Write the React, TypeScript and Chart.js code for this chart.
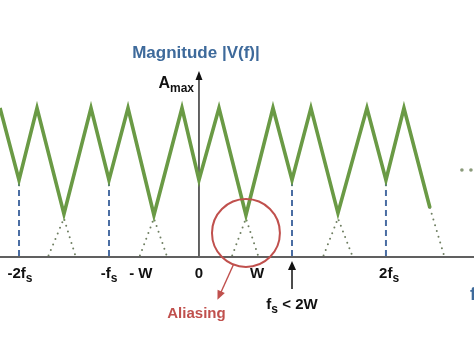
import { useEffect, useRef } from 'react';
import { Chart, registerables } from 'chart.js';

Chart.register(...registerables);

// Spectrum (x in units of fs, y in units of Amax)
const spectrumX = [-2.156, -1.95, -1.755, -1.463, -1.17, -0.975, -0.769, -0.488, -0.184, 0, 0.217, 0.509, 0.802, 1.008, 1.213, 1.506, 1.82, 2.026, 2.221, 2.503];
const spectrumY = [1.0, 0.517, 1.0, 0.289, 1.0, 0.517, 1.0, 0.282, 1.0, 0.517, 1.0, 0.282, 1.0, 0.517, 1.0, 0.295, 1.0, 0.517, 1.0, 0.329];

// Hidden (overlapping) tails drawn dotted
const tailX = [
  [-1.63, -1.463, -1.34],
  [-0.64, -0.488, -0.35],
  [0.36, 0.509, 0.64],
  [1.35, 1.506, 1.66],
  [2.503, 2.654],
];
const tailY = [
  [0.01, 0.26, 0.01],
  [0.01, 0.26, 0.01],
  [0.01, 0.26, 0.01],
  [0.01, 0.26, 0.01],
  [0.329, 0.013],
];

// Sampling-frequency markers (dashed verticals)
const markerX = [-1.95, -0.975, 1.008, 2.026];
const markerTop = [0.517, 0.517, 0.517, 0.517];

// Continuation dots
const dotsX = [2.849, 2.947, 3.05];
const dotsY = [0.584, 0.584, 0.584];

// Tick labels
const tickValues = [-1.94, -0.975, -0.63, 0, 0.63, 2.06];
const tickMain = ['-2f', '-f', '- W', '0', 'W', '2f'];
const tickSub = ['s', 's', '', '', '', 's'];

const AXIS_TOP = 1.248;
const ALIAS_CENTER = { x: 0.509, y: 0.161 };
const ALIAS_RADIUS = 0.368;
const FS_MARK = 1.008;

const FONT = '"Liberation Sans", Arial, sans-serif';
const GREEN = '#6a9a45';
const BLUE = '#3e6a9b';
const RED = '#c0504d';

function drawRuns(ctx: CanvasRenderingContext2D, runs: { t: string; sub?: boolean }[], cx: number, baseY: number, size: number, subSize: number, color: string, align: 'center' | 'right' = 'center') {
  ctx.save();
  ctx.fillStyle = color;
  ctx.textBaseline = 'alphabetic';
  ctx.textAlign = 'left';
  let total = 0;
  const widths = runs.map((r) => {
    ctx.font = `bold ${r.sub ? subSize : size}px ${FONT}`;
    const w = ctx.measureText(r.t).width;
    total += w;
    return w;
  });
  let x = align === 'center' ? cx - total / 2 : cx - total;
  runs.forEach((r, i) => {
    ctx.font = `bold ${r.sub ? subSize : size}px ${FONT}`;
    ctx.fillText(r.t, x, r.sub ? baseY + 4 : baseY);
    x += widths[i];
  });
  ctx.restore();
}

function arrowHead(ctx: CanvasRenderingContext2D, x1: number, y1: number, x2: number, y2: number, len: number, half: number) {
  const a = Math.atan2(y2 - y1, x2 - x1);
  ctx.beginPath();
  ctx.moveTo(x2, y2);
  ctx.lineTo(x2 - len * Math.cos(a) + half * Math.sin(a), y2 - len * Math.sin(a) - half * Math.cos(a));
  ctx.lineTo(x2 - len * Math.cos(a) - half * Math.sin(a), y2 - len * Math.sin(a) + half * Math.cos(a));
  ctx.closePath();
  ctx.fill();
}

const annotations = {
  id: 'annotations',
  beforeDatasetsDraw(chart: any) {
    const { ctx, scales } = chart;
    const xs = scales.x;
    const ys = scales.y;
    const y0 = ys.getPixelForValue(0);
    const xa = xs.getPixelForValue(0);
    ctx.save();
    ctx.strokeStyle = '#111';
    ctx.fillStyle = '#111';
    ctx.lineWidth = 1.3;
    const yTop = ys.getPixelForValue(AXIS_TOP);
    ctx.beginPath();
    ctx.moveTo(xa, y0);
    ctx.lineTo(xa, yTop + 6);
    ctx.stroke();
    arrowHead(ctx, xa, y0, xa, yTop, 9, 3.5);
    ctx.restore();
  },
  afterDatasetsDraw(chart: any) {
    const { ctx, scales, chartArea } = chart;
    const xs = scales.x;
    const ys = scales.y;
    const y0 = ys.getPixelForValue(0);
    const xa = xs.getPixelForValue(0);
    ctx.save();
    // baseline
    ctx.strokeStyle = '#606060';
    ctx.lineWidth = 2;
    ctx.beginPath();
    ctx.moveTo(chartArea.left, y0);
    ctx.lineTo(chartArea.right, y0);
    ctx.stroke();

    // title
    drawRuns(ctx, [{ t: 'Magnitude |V(f)|' }], xa - 3, ys.getPixelForValue(AXIS_TOP) - 13, 17, 17, BLUE);
    // Amax
    drawRuns(ctx, [{ t: 'A' }, { t: 'max', sub: true }], xa - 5, ys.getPixelForValue(AXIS_TOP) + 17, 16, 12, '#111', 'right');

    // tick labels
    tickValues.forEach((v, i) => {
      const runs: { t: string; sub?: boolean }[] = [{ t: tickMain[i] }];
      if (tickSub[i]) runs.push({ t: tickSub[i], sub: true });
      drawRuns(ctx, runs, xs.getPixelForValue(v), y0 + 21, 15, 12, '#111');
    });

    // fs < 2W arrow and label
    const xf = xs.getPixelForValue(FS_MARK);
    ctx.strokeStyle = '#111';
    ctx.fillStyle = '#111';
    ctx.lineWidth = 1.5;
    ctx.beginPath();
    ctx.moveTo(xf, y0 + 32);
    ctx.lineTo(xf, y0 + 10);
    ctx.stroke();
    arrowHead(ctx, xf, y0 + 32, xf, y0 + 4, 9, 4);
    drawRuns(ctx, [{ t: 'f' }, { t: 's', sub: true }, { t: ' < 2W' }], xf, y0 + 52, 15, 12, '#111');

    // aliasing circle
    const cx = xs.getPixelForValue(ALIAS_CENTER.x);
    const cy = ys.getPixelForValue(ALIAS_CENTER.y);
    const r = xs.getPixelForValue(ALIAS_CENTER.x + ALIAS_RADIUS) - cx;
    ctx.strokeStyle = RED;
    ctx.fillStyle = RED;
    ctx.lineWidth = 2;
    ctx.beginPath();
    ctx.arc(cx, cy, r, 0, Math.PI * 2);
    ctx.stroke();
    const ang = Math.PI * 0.62;
    const sx = cx + r * Math.cos(ang);
    const sy = cy + r * Math.sin(ang);
    const ex = sx - 16;
    const ey = sy + 35;
    ctx.lineWidth = 1.3;
    ctx.beginPath();
    ctx.moveTo(sx, sy);
    ctx.lineTo(ex + 2, ey - 4);
    ctx.stroke();
    arrowHead(ctx, sx, sy, ex, ey, 9, 4);
    drawRuns(ctx, [{ t: 'Aliasing' }], ex - 21, ey + 18, 15, 15, RED);

    // f axis label
    drawRuns(ctx, [{ t: 'f' }], chartArea.right - 1, y0 + 43, 18, 18, BLUE);
    ctx.restore();
  },
};

export default function App() {
  const ref = useRef<HTMLCanvasElement>(null);
  useEffect(() => {
    document.body.style.margin = '0';
    const datasets: any[] = [];
    datasets.push({
      data: spectrumX.map((x, i) => ({ x, y: spectrumY[i] })),
      borderColor: GREEN,
      borderWidth: 3.6,
      pointRadius: 0,
      tension: 0,
      borderJoinStyle: 'miter',
    });
    tailX.forEach((xsArr, k) => {
      datasets.push({
        data: xsArr.map((x, i) => ({ x, y: tailY[k][i] })),
        borderColor: '#6f7f62',
        borderWidth: 2,
        borderDash: [0, 6],
        borderCapStyle: 'round',
        pointRadius: 0,
        tension: 0,
      });
    });
    markerX.forEach((x, i) => {
      datasets.push({
        data: [{ x, y: markerTop[i] }, { x, y: 0 }],
        borderColor: '#4a6da3',
        borderWidth: 2,
        borderDash: [6, 4],
        pointRadius: 0,
      });
    });
    datasets.push({
      data: dotsX.map((x, i) => ({ x, y: dotsY[i] })),
      showLine: false,
      pointRadius: 1.8,
      pointBackgroundColor: '#8a9a7a',
      pointBorderWidth: 0,
      borderColor: 'transparent',
    });
    const chart = new Chart(ref.current!, {
      type: 'line',
      data: { datasets },
      options: {
        animation: false,
        responsive: false,
        devicePixelRatio: 1,
        layout: { padding: 0, autoPadding: false } as any,
        plugins: { legend: { display: false }, tooltip: { enabled: false } },
        scales: {
          x: { type: 'linear', min: -2.156, max: 2.98, display: false },
          y: { type: 'linear', min: -0.711, max: 1.725, display: false },
        },
      },
      plugins: [annotations],
    });
    return () => chart.destroy();
  }, []);
  return (
    <div style={{ position: 'absolute', left: 0, top: 0, width: 474, height: 363, background: '#fff' }}>
      <canvas ref={ref} width={474} height={363} />
    </div>
  );
}
